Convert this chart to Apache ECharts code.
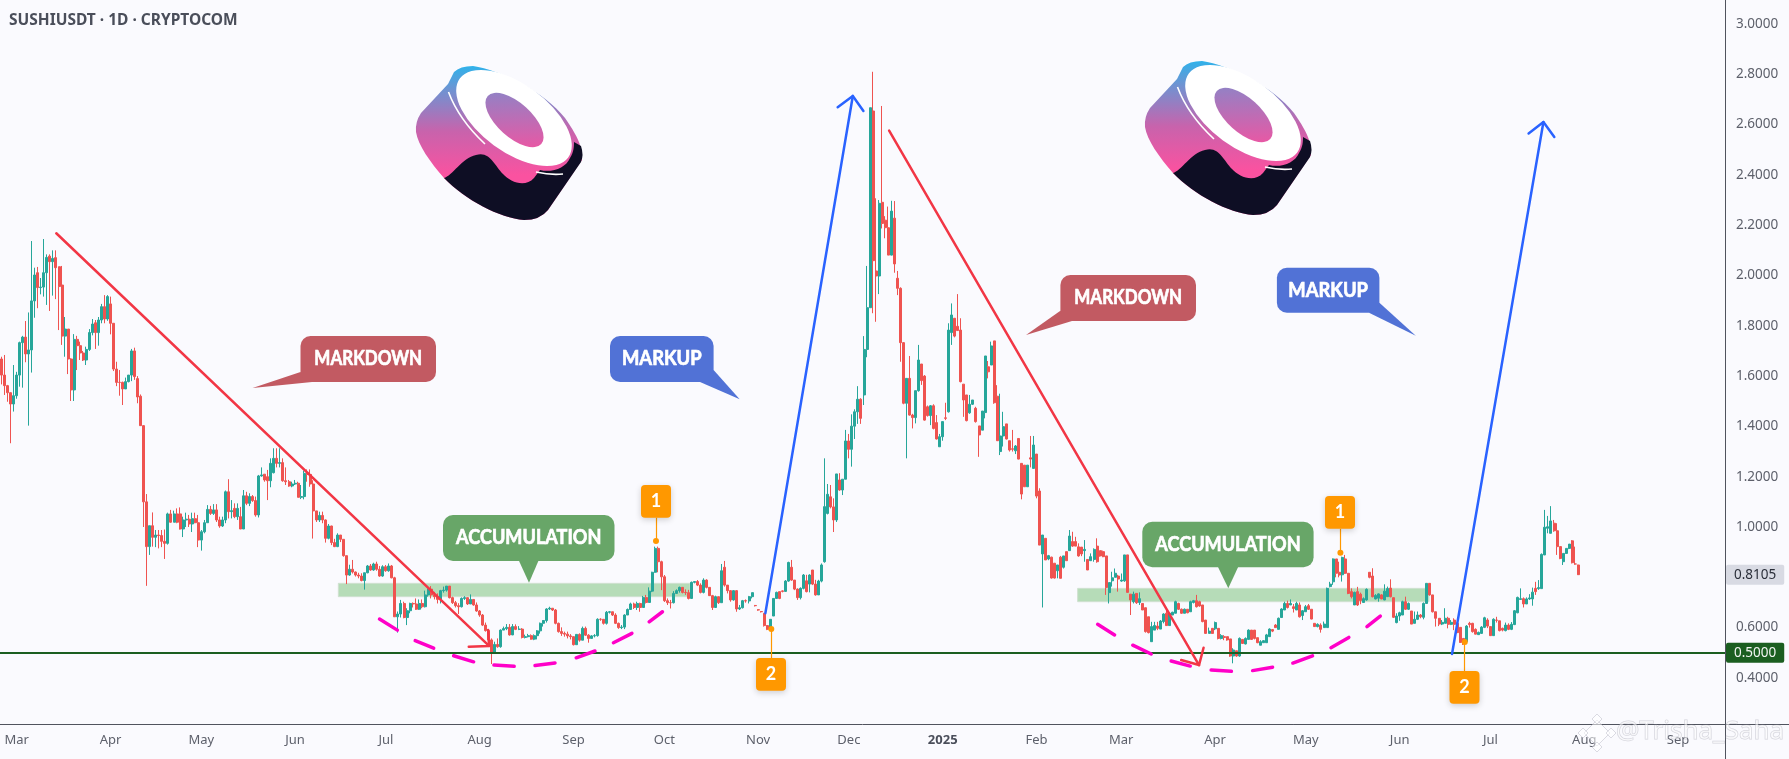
<!DOCTYPE html>
<html><head><meta charset="utf-8">
<style>html,body{margin:0;padding:0;background:#fafafe;overflow:hidden}#c{width:1789px;height:759px}</style>
<script src="https://cdn.jsdelivr.net/npm/echarts@6/dist/echarts.min.js"></script>
</head><body><div id="c"></div>
<script>
// Each candle: [close, high, low, open?]  (open defaults to the previous close)
const candlesSpring2024 = [
[1.604,1.677,1.567,1.668],[1.562,1.684,1.525],[1.534,1.565,1.498],[1.489,1.535,1.333],[1.522,1.644,1.459],[1.604,1.617,1.51],[1.733,1.737,1.558],[1.755,1.76,1.554],[1.688,1.819,1.655],[1.704,1.853,1.403],
[1.899,2.137,1.614],[2.002,2.031,1.832],[1.952,2.034,1.87,2.011],[1.954,1.99,1.925],[2.011,2.145,1.916],[2.072,2.084,1.883],[2.055,2.084,1.859,2.077],[2.068,2.1,1.92],[2.031,2.1,1.906,2.071],[1.956,2.03,1.783,2.035],
[1.759,2.038,1.724,1.962],[1.787,1.835,1.677],[1.668,1.787,1.608],[1.545,1.671,1.501],[1.746,1.767,1.501],[1.721,1.76,1.624],[1.692,1.737,1.664],[1.664,1.7,1.66],[1.706,1.717,1.644],[1.773,1.787,1.7],
[1.807,1.827,1.762],[1.773,1.823,1.708,1.812],[1.823,1.835,1.721],[1.876,1.887,1.81],[1.827,1.922,1.81,1.876],[1.916,1.922,1.82],[1.81,1.916,1.766,1.887],[1.628,1.81,1.62],[1.575,1.657,1.56],[1.575,1.624,1.522],
[1.549,1.578,1.485],[1.578,1.594,1.549],[1.604,1.604,1.575],[1.7,1.708,1.58],[1.598,1.713,1.585,1.7],[1.517,1.6,1.492,1.59],[1.403,1.527,1.403,1.52],[1.1,1.405,1.0],[0.922,1.131,0.766,1.1],[1.005,1.005,0.889],
[0.959,1.058,0.922,1.005],[0.968,0.988,0.92],[0.966,0.988,0.915],[0.943,0.988,0.92],[0.935,0.99,0.873],[1.052,1.057,0.93],[1.019,1.068,1.017],[1.052,1.065,1.019],[1.019,1.074,1.015],[0.992,1.078,0.99,1.052],
[1.028,1.041,0.96],[1.031,1.057,1.0],[1.012,1.048,1.0],[1.033,1.057,0.98],[1.017,1.057,1.015],[0.948,1.048,0.92],[0.981,0.988,0.906],[1.017,1.028,0.975],[1.07,1.087,1.017],[1.054,1.084,1.048],
[1.068,1.091,1.048],[1.028,1.091,1.02],[1.004,1.041,0.997],[1.028,1.041,1.0],[1.14,1.145,1.015],[1.061,1.19,1.034,1.14],[1.065,1.107,1.034],[1.041,1.094,1.035,1.074],[1.074,1.094,1.028],[0.992,1.08,0.992,1.041],
[1.124,1.147,0.992],[1.094,1.14,1.087],[1.121,1.134,1.083],[1.105,1.127,1.1],[1.048,1.121,1.041],[1.203,1.207,1.038],[1.207,1.237,1.2],[1.187,1.21,1.18,1.21],[1.184,1.227,1.107,1.2],[1.253,1.273,1.158]
];
const candlesSummer2024 = [
[1.273,1.313,1.213,1.216],[1.253,1.313,1.237,1.273],[1.256,1.313,1.237],[1.184,1.273,1.18],[1.18,1.237,1.167],[1.163,1.187,1.16],[1.171,1.18,1.158],[1.174,1.187,1.167],[1.118,1.18,1.118],[1.121,1.167,1.111],
[1.213,1.224,1.11],[1.209,1.229,1.18],[1.171,1.229,1.16],[1.064,1.186,0.954],[1.028,1.064,1.02],[1.046,1.061,1.02],[1.028,1.061,1.015],[0.955,1.03,0.938],[1.004,1.012,0.951],[0.938,1.005,0.928],
[0.922,0.953,0.92],[0.968,0.975,0.92],[0.951,0.955,0.94],[0.886,0.951,0.882],[0.809,0.886,0.773],[0.832,0.85,0.806],[0.821,0.869,0.815],[0.809,0.823,0.803],[0.805,0.818,0.796],[0.787,0.816,0.784],
[0.818,0.818,0.751],[0.845,0.849,0.816],[0.829,0.853,0.826],[0.853,0.858,0.826],[0.832,0.862,0.826],[0.805,0.845,0.802],[0.842,0.848,0.802],[0.826,0.849,0.822],[0.845,0.855,0.822],[0.798,0.849,0.796],
[0.643,0.802,0.643],[0.654,0.664,0.58],[0.696,0.71,0.64],[0.64,0.703,0.637],[0.667,0.677,0.61],[0.696,0.699,0.657],[0.694,0.7,0.68],[0.673,0.716,0.67],[0.696,0.712,0.67],[0.683,0.712,0.677],
[0.73,0.747,0.68],[0.753,0.756,0.723],[0.73,0.765,0.716],[0.723,0.742,0.712],[0.712,0.736,0.696],[0.747,0.75,0.696],[0.749,0.763,0.739],[0.765,0.765,0.743],[0.719,0.765,0.716],[0.699,0.723,0.694],
[0.687,0.706,0.68],[0.683,0.697,0.654],[0.716,0.72,0.68],[0.719,0.725,0.71],[0.694,0.72,0.69],[0.712,0.732,0.694],[0.69,0.703,0.687],[0.666,0.7,0.663],[0.65,0.67,0.643],[0.61,0.654,0.606],
[0.588,0.62,0.584],[0.551,0.59,0.53],[0.502,0.557,0.455],[0.533,0.544,0.498],[0.524,0.557,0.52],[0.59,0.593,0.52],[0.596,0.604,0.59],[0.601,0.614,0.59],[0.571,0.614,0.568],[0.604,0.614,0.57],
[0.593,0.613,0.59],[0.594,0.606,0.59],[0.561,0.598,0.557],[0.564,0.572,0.557],[0.568,0.575,0.561],[0.554,0.573,0.552],[0.568,0.573,0.55],[0.587,0.59,0.553]
];
const candlesAutumn2024 = [
[0.617,0.62,0.576],[0.628,0.63,0.604],[0.674,0.677,0.62],[0.677,0.683,0.67],[0.67,0.676,0.666],[0.617,0.674,0.613],[0.584,0.62,0.58],[0.577,0.601,0.567],[0.574,0.584,0.564],[0.567,0.584,0.557],
[0.564,0.574,0.553],[0.532,0.561,0.529],[0.573,0.574,0.532],[0.55,0.577,0.544],[0.597,0.604,0.55],[0.57,0.604,0.567],[0.557,0.574,0.54],[0.567,0.57,0.557],[0.568,0.574,0.561],[0.633,0.637,0.564],
[0.633,0.637,0.627],[0.617,0.633,0.612],[0.661,0.666,0.612],[0.663,0.666,0.656],[0.65,0.663,0.646],[0.617,0.657,0.614],[0.6,0.62,0.595],[0.602,0.61,0.594],[0.65,0.653,0.594],[0.672,0.676,0.65],
[0.694,0.699,0.67],[0.68,0.699,0.674],[0.696,0.703,0.67],[0.68,0.699,0.663],[0.72,0.726,0.69],[0.7,0.73,0.696],[0.745,0.76,0.699],[0.82,0.822,0.741],[0.915,0.922,0.818],[0.862,0.922,0.82],
[0.802,0.866,0.749],[0.707,0.809,0.702],[0.699,0.716,0.69],[0.699,0.71,0.676],[0.736,0.745,0.696],[0.747,0.752,0.734],[0.76,0.763,0.739],[0.74,0.76,0.736],[0.739,0.752,0.73],[0.716,0.75,0.712],
[0.78,0.783,0.714],[0.783,0.783,0.776],[0.769,0.789,0.765],[0.74,0.776,0.736],[0.789,0.796,0.736],[0.76,0.792,0.756],[0.727,0.76,0.726],[0.68,0.73,0.67],[0.723,0.727,0.68],[0.699,0.723,0.694],
[0.826,0.853,0.699],[0.769,0.865,0.763,0.84],[0.747,0.769,0.736],[0.71,0.749,0.703],[0.747,0.749,0.707],[0.674,0.749,0.663],[0.679,0.69,0.67],[0.707,0.71,0.676],[0.706,0.712,0.699],[0.723,0.726,0.696],
[0.739,0.739,0.716],[0.687,0.69,0.684,0.688],[0.67,0.673,0.667,0.671],[0.663,0.666,0.66,0.664],[0.608,0.657,0.604,0.657],[0.593,0.61,0.59],[0.633,0.633,0.59],[0.716,0.716,0.646,0.646],[0.74,0.743,0.716],[0.716,0.743,0.713,0.743],
[0.744,0.748,0.74,0.746],[0.785,0.789,0.743],[0.859,0.862,0.782],[0.789,0.869,0.786,0.84],[0.753,0.789,0.749],[0.719,0.756,0.71],[0.756,0.76,0.712],[0.809,0.813,0.752],[0.743,0.81,0.74,0.786],[0.809,0.812,0.74,0.773],
[0.773,0.829,0.769,0.829],[0.73,0.79,0.727],[0.785,0.79,0.73],[0.849,0.855,0.78]
];
const candlesBreakout = [
[1.081,1.273,0.858,0.862],[1.13,1.171,1.05,1.054],[1.08,1.167,1.074,1.12],[1.028,1.114,0.98],[1.211,1.211,1.02],[1.147,1.214,1.144,1.187],[1.19,1.19,1.127],[1.342,1.386,1.19],[1.309,1.37,1.273],[1.401,1.448,1.24],
[1.458,1.468,1.35],[1.508,1.56,1.41],[1.432,1.512,1.41],[1.706,1.759,1.485,1.525],[1.872,2.038,1.675],[2.667,2.667,1.913],[2.059,2.81,1.85,2.654],[1.998,2.307,1.816,2.018],[2.287,2.3,1.926],[2.207,2.674,2.187,2.291],
[2.19,2.236,2.148,2.22],[2.081,2.274,2.081,2.19],[2.256,2.297,2.08],[2.046,2.296,2.011,2.228],[1.949,2.018,1.922,1.989],[1.733,1.953,1.657],[1.492,1.735,1.488],[1.591,1.591,1.273],[1.445,1.68,1.443],[1.435,1.45,1.392],
[1.542,1.542,1.412],[1.664,1.724,1.538],[1.582,1.648,1.565,1.648],[1.425,1.604,1.423,1.6],[1.443,1.483,1.439,1.478],[1.482,1.485,1.405],[1.392,1.488,1.388],[1.35,1.445,1.348,1.415],[1.359,1.37,1.319,1.319],[1.419,1.419,1.343],
[1.432,1.494,1.425,1.434],[1.783,1.81,1.455,1.458],[1.843,1.889,1.724,1.773],[1.759,1.83,1.754,1.83],[1.781,1.926,1.78,1.798],[1.578,1.83,1.575,1.783],[1.505,1.568,1.438,1.568],[1.423,1.525,1.42,1.525],[1.488,1.525,1.45,1.454],[1.505,1.505,1.485],
[1.419,1.478,1.415,1.472],[1.366,1.402,1.279,1.402],[1.461,1.461,1.385,1.385],[1.68,1.68,1.432,1.455],[1.617,1.66,1.591,1.637],[1.72,1.737,1.645,1.644],[1.494,1.74,1.49,1.74],[1.343,1.564,1.343,1.52],[1.362,1.53,1.286,1.3],[1.399,1.458,1.32],
[1.35,1.41,1.348,1.41],[1.306,1.343,1.3,1.343],[1.309,1.386,1.3,1.311],[1.322,1.326,1.29,1.303],[1.27,1.352,1.269,1.352]
];
const candlesEarly2025 = [
[1.131,1.253,1.11,1.253],[1.16,1.246,1.16,1.246],[1.246,1.246,1.16,1.16],[1.27,1.362,1.237,1.275],[1.326,1.362,1.233,1.233],[1.123,1.29,1.114,1.29],[0.928,1.154,0.928,1.143],[0.968,0.968,0.68,0.893],[0.869,0.955,0.869,0.955],[0.886,0.889,0.868,0.873],
[0.797,0.882,0.795,0.88],[0.797,0.856,0.795,0.856],[0.849,0.849,0.796,0.826],[0.796,0.885,0.796,0.88],[0.885,0.885,0.835,0.84],[0.866,0.902,0.866,0.902],[0.964,0.988,0.906,0.906],[0.924,0.981,0.921,0.942],[0.924,0.961,0.924,0.942],[0.885,0.935,0.882,0.921],
[0.893,0.92,0.884,0.92],[0.911,0.948,0.862,0.906],[0.829,0.871,0.829,0.871],[0.882,0.895,0.866,0.866],[0.911,0.915,0.862,0.871],[0.862,0.955,0.858,0.924],[0.885,0.906,0.882,0.906],[0.882,0.906,0.88,0.902],[0.759,0.885,0.73,0.885],[0.779,0.779,0.696,0.739],
[0.798,0.822,0.763,0.786],[0.816,0.835,0.8,0.8],[0.793,0.81,0.743,0.805],[0.789,0.815,0.782,0.785],[0.889,0.889,0.782,0.786],[0.74,0.889,0.74,0.889],[0.71,0.733,0.65,0.733],[0.733,0.743,0.696,0.703],[0.699,0.736,0.694,0.736],[0.715,0.74,0.69,0.7],
[0.67,0.695,0.67,0.696],[0.584,0.679,0.58,0.679],[0.58,0.643,0.577,0.643],[0.604,0.623,0.544,0.544],[0.608,0.623,0.59,0.59],[0.597,0.623,0.59,0.606],[0.626,0.63,0.594,0.594],[0.654,0.657,0.617,0.624],[0.608,0.677,0.608,0.657],[0.657,0.657,0.608,0.608],
[0.661,0.663,0.65,0.65],[0.703,0.707,0.657,0.657],[0.673,0.699,0.67,0.696],[0.657,0.676,0.655,0.673],[0.673,0.676,0.657,0.657],[0.659,0.673,0.657,0.673],[0.703,0.707,0.663,0.663],[0.707,0.71,0.696,0.7],[0.683,0.73,0.68,0.707],[0.686,0.707,0.683,0.703],
[0.624,0.69,0.621,0.69],[0.577,0.63,0.575,0.63],[0.586,0.6,0.577,0.577],[0.577,0.597,0.575,0.597],[0.62,0.624,0.59,0.595],[0.557,0.597,0.553,0.597],[0.568,0.574,0.553,0.557],[0.561,0.57,0.55,0.564],[0.551,0.564,0.548,0.564],[0.487,0.555,0.484,0.555],
[0.511,0.518,0.458,0.487],[0.487,0.508,0.484,0.508],[0.557,0.561,0.484,0.487],[0.537,0.553,0.535,0.553],[0.557,0.561,0.533,0.535],[0.59,0.593,0.553,0.553],[0.553,0.59,0.551,0.59],[0.557,0.59,0.553,0.59],[0.54,0.56,0.538,0.56],[0.544,0.55,0.53,0.53],
[0.548,0.55,0.54,0.54],[0.571,0.575,0.54,0.54],[0.594,0.597,0.564,0.564],[0.586,0.594,0.582,0.592],[0.6,0.614,0.6,0.61],[0.637,0.64,0.593,0.593],[0.674,0.677,0.64,0.64],[0.696,0.703,0.67,0.67],[0.68,0.707,0.676,0.696],[0.696,0.712,0.69,0.69],
[0.676,0.694,0.66,0.683],[0.696,0.703,0.67,0.67]
];
const candlesMidLate2025 = [
[0.643,0.7,0.64,0.69],[0.667,0.67,0.63,0.648],[0.683,0.69,0.663,0.663],[0.673,0.694,0.67,0.687],[0.634,0.673,0.633,0.673],[0.604,0.617,0.604,0.617],[0.613,0.617,0.601,0.604],[0.593,0.617,0.58,0.61],[0.614,0.624,0.6,0.6],[0.756,0.759,0.6,0.6],
[0.773,0.782,0.76,0.763],[0.873,0.875,0.77,0.782],[0.816,0.873,0.8,0.873],[0.809,0.862,0.8,0.82],[0.879,0.882,0.783,0.81],[0.816,0.889,0.813,0.873],[0.736,0.816,0.733,0.816],[0.723,0.756,0.716,0.743],[0.74,0.743,0.69,0.69],[0.69,0.762,0.686,0.743],
[0.708,0.739,0.693,0.733],[0.715,0.72,0.7,0.7],[0.752,0.756,0.707,0.71],[0.8,0.82,0.796,0.82],[0.723,0.836,0.72,0.805],[0.728,0.733,0.712,0.714],[0.734,0.736,0.703,0.717],[0.714,0.733,0.713,0.73],[0.745,0.772,0.709,0.71],[0.755,0.763,0.723,0.723],
[0.723,0.792,0.72,0.757],[0.641,0.719,0.638,0.719],[0.646,0.657,0.617,0.62],[0.659,0.663,0.627,0.646],[0.703,0.707,0.65,0.65],[0.673,0.723,0.67,0.703],[0.696,0.7,0.67,0.673],[0.614,0.666,0.614,0.666],[0.633,0.664,0.617,0.617],[0.65,0.664,0.63,0.633],
[0.643,0.654,0.637,0.65],[0.696,0.7,0.633,0.641],[0.776,0.776,0.696,0.696],[0.73,0.776,0.727,0.776],[0.663,0.73,0.66,0.73],[0.637,0.663,0.604,0.663],[0.614,0.637,0.606,0.637],[0.621,0.63,0.61,0.614],[0.637,0.677,0.617,0.617],[0.613,0.643,0.597,0.637],
[0.621,0.63,0.61,0.613],[0.613,0.637,0.59,0.63],[0.58,0.62,0.577,0.617],[0.541,0.6,0.54,0.601],[0.535,0.557,0.531,0.557],[0.606,0.61,0.54,0.544],[0.612,0.623,0.6,0.617],[0.584,0.619,0.58,0.617],[0.574,0.597,0.573,0.593],[0.581,0.584,0.571,0.572],
[0.602,0.606,0.575,0.577],[0.639,0.643,0.598,0.601],[0.606,0.637,0.598,0.63],[0.568,0.604,0.567,0.604],[0.633,0.637,0.568,0.568],[0.629,0.643,0.62,0.63],[0.588,0.627,0.585,0.627],[0.59,0.6,0.585,0.597],[0.61,0.62,0.585,0.588],[0.593,0.617,0.59,0.61],
[0.613,0.622,0.59,0.593],[0.667,0.67,0.61,0.612],[0.72,0.723,0.657,0.659],[0.715,0.756,0.71,0.712],[0.694,0.72,0.68,0.715],[0.714,0.72,0.694,0.694],[0.718,0.733,0.71,0.714],[0.741,0.759,0.687,0.714],[0.743,0.782,0.73,0.756],[0.759,0.789,0.75,0.755],
[0.891,0.895,0.755,0.755],[0.999,1.068,0.888,0.889],[1.001,1.044,0.975,0.995],[1.024,1.083,0.975,0.975],[0.985,1.028,0.981,1.015],[0.922,1.015,0.889,0.985],[0.875,0.922,0.872,0.922],[0.895,0.895,0.849,0.862],[0.915,0.915,0.893,0.895],[0.932,0.932,0.912,0.915],
[0.858,0.948,0.855,0.945],[0.853,0.922,0.85,0.853],[0.8105,0.85,0.809,0.849]
];
const yTicks = [3.0,2.8,2.6,2.4,2.2,2.0,1.8,1.6,1.4,1.2,1.0,0.6,0.4];
const monthTicks = {'2024-03-01':'Mar','2024-04-01':'Apr','2024-05-01':'May','2024-06-01':'Jun','2024-07-01':'Jul','2024-08-01':'Aug','2024-09-01':'Sep','2024-10-01':'Oct','2024-11-01':'Nov','2024-12-01':'Dec','2025-01-01':'2025','2025-02-01':'Feb','2025-03-01':'Mar','2025-04-01':'Apr','2025-05-01':'May','2025-06-01':'Jun','2025-07-01':'Jul','2025-08-01':'Aug','2025-09-01':'Sep'};
const supportLevel = 0.5, lastPrice = 0.8105;
// drawings, in [day index, price]
const redArrow1 = [[18.1,2.168],[161.1,0.527]];
const redHead1 = [[154.4,0.524],[161.1,0.527],[160.8,0.59]];
const redArrow2 = [[293.3,2.576],[395.7,0.451]];
const redHead2 = [[389.8,0.471],[395.7,0.451],[397.2,0.52]];
const blueArrow1 = [[252.4,0.657],[281.3,2.714]];
const blueHead1 = [[276.3,2.669],[281.3,2.714],[284.8,2.654]];
const blueArrow2 = [[479.3,0.495],[509.5,2.61]];
const blueHead2 = [[504.6,2.565],[509.5,2.61],[513.1,2.551]];
const pinkDashes1 = [[[124.9,.634],[130.8,.59]],[[136.7,.548],[142.8,.518]],[[149.4,.488],[156,.464]],[[162.7,.451],[169.4,.446]],[[176.3,.449],[182.9,.459]],[[189.9,.48],[196.1,.507]],[[202.2,.54],[208.3,.577]],[[214,.623],[218.4,.663]]];
const pinkDashes2 = [[[362.2,.613],[367.8,.571]],[[373.8,.53],[379.9,.495]],[[386.5,.467],[392.8,.447]],[[399.7,.431],[406.4,.426]],[[413.4,.429],[420,.442]],[[426.7,.459],[433.2,.488]],[[439.3,.52],[445.2,.561]],[[451.2,.604],[455.6,.646]]];
const accumulationZones = [[[111.3,0.776],[227.5,0.723]],[[355.6,0.756],[471.7,0.703]]];

const FONT = '"Noto Sans", sans-serif';
const GREEN = '#26a69a', RED = '#ef5350';
const allCandles = [].concat(candlesSpring2024,candlesSummer2024,candlesAutumn2024,candlesBreakout,candlesEarly2025,candlesMidLate2025);
const TOTAL_DAYS = 570;
const categories = [];
for (let i = 0; i < TOTAL_DAYS; i++) categories.push(new Date(Date.UTC(2024,1,25+i)).toISOString().slice(0,10));
let prev = null;
const ohlc = allCandles.map(function (c) {
  const close = c[0], open = c[3] !== undefined ? c[3] : prev;
  prev = close;
  return [open, close, Math.min(c[2],open,close), Math.max(c[1],open,close)];
});

function lineSeries(data, color, width, extra) {
  return Object.assign({type:'line',xAxisIndex:1,yAxisIndex:0,data:data,symbol:'none',silent:true,animation:false,z:6,
    lineStyle:{color:color,width:width,cap:'round',join:'round'}}, extra||{});
}
const series = [{
  type:'candlestick',xAxisIndex:0,yAxisIndex:0,data:ohlc,barWidth:2.5,animation:false,silent:true,z:3,
  itemStyle:{color:GREEN,color0:RED,borderColor:GREEN,borderColor0:RED,borderColorDoji:RED,borderWidth:1}
}];
accumulationZones.forEach(function (z) {
  series.push({type:'line',xAxisIndex:1,yAxisIndex:0,data:z,symbol:'none',silent:true,animation:false,z:1,lineStyle:{opacity:0},
    markArea:{silent:true,animation:false,itemStyle:{color:'#b6dcb8',borderColor:'#cfe0d0',borderWidth:1},
      data:[[{xAxis:z[0][0],yAxis:z[0][1]},{xAxis:z[1][0],yAxis:z[1][1]}]]}});
});
[redArrow1,redHead1,redArrow2,redHead2].forEach(function (d){series.push(lineSeries(d,'#f23645',2.5));});
[blueArrow1,blueHead1,blueArrow2,blueHead2].forEach(function (d){series.push(lineSeries(d,'#2962ff',2.5));});
pinkDashes1.concat(pinkDashes2).forEach(function (d){series.push(lineSeries(d,'#ff00c8',3.5));});
series.push({type:'line',xAxisIndex:1,yAxisIndex:0,data:[[0,supportLevel],[569,supportLevel]],symbol:'none',silent:true,animation:false,z:5,
  lineStyle:{opacity:0},
  markLine:{silent:true,animation:false,symbol:'none',precision:4,
    data:[
      {yAxis:supportLevel,lineStyle:{color:'#1b5e20',width:2,type:'solid'},label:{show:true,position:'end',distance:1,formatter:'0.5000',color:'#f2f5f2',backgroundColor:'#1b5e20',padding:[3,8,3,8],borderRadius:2,fontFamily:FONT,fontSize:13.5}},
      {yAxis:lastPrice,lineStyle:{color:'rgba(0,0,0,0)',width:0,type:'solid'},label:{show:true,position:'end',distance:1,formatter:'0.8105',color:'#2a2e39',backgroundColor:'#d8dae3',padding:[3,8,3,8],borderRadius:2,fontFamily:FONT,fontSize:13.5}}
    ]}});

// decorative annotation graphics
const graphics = [];
function callout(x,y,w,h,fill,tail,text,sx) {
  graphics.push({type:'polygon',z:50,silent:true,shape:{points:tail},style:{fill:fill}});
  graphics.push({type:'rect',z:50,silent:true,shape:{x:x,y:y,width:w,height:h,r:10},style:{fill:fill}});
  graphics.push({type:'text',z:51,silent:true,x:x+w/2,y:y+h/2,scaleX:sx,style:{text:text,x:0,y:0,fill:'#fff',stroke:'#fff',lineWidth:0.7,font:'bold 20px Lato, sans-serif',textAlign:'center',textVerticalAlign:'middle'}});
}
callout(300.5,336,135.5,46,'#c25a62',[[300.5,372],[252.6,388],[312,382]],'MARKDOWN',0.85);
callout(610,336,103.6,46,'#5172d6',[[713.6,370],[739.7,399.3],[700,382]],'MARKUP',0.92);
callout(1060.4,275,135.6,46,'#c25a62',[[1060.4,310.7],[1026,335],[1072,321]],'MARKDOWN',0.85);
callout(1276.9,267.7,102.5,45,'#5172d6',[[1379.4,302.7],[1415.8,335.7],[1369,312.7]],'MARKUP',0.92);
callout(443,515,171.5,46,'#68a668',[[518.6,560],[529,582.7],[538.8,560]],'ACCUMULATION',0.905);
callout(1142.3,521.7,171.3,45.5,'#68a668',[[1217.5,566],[1228.3,588.3],[1238.6,566]],'ACCUMULATION',0.905);

function marker(x,y,stemX,stemY,text) {
  const top = stemY < y, sx = Math.floor(stemX)+0.5;
  graphics.push({type:'line',z:49,silent:true,shape:{x1:sx,y1:top?y:y+32.7,x2:sx,y2:stemY},style:{stroke:'#ff9800',lineWidth:1.2}});
  graphics.push({type:'circle',z:49,silent:true,shape:{cx:stemX,cy:stemY,r:3},style:{fill:'#ff9800'}});
  graphics.push({type:'rect',z:50,silent:true,shape:{x:x,y:y,width:30,height:32.7,r:4},style:{fill:'#ff9800',shadowBlur:6,shadowColor:'rgba(0,0,0,0.18)',shadowOffsetY:2}});
  graphics.push({type:'text',z:51,silent:true,style:{text:text,x:x+15,y:y+16.5,fill:'#fff',font:'bold 18px Lato, sans-serif',textAlign:'center',textVerticalAlign:'middle'}});
}
marker(641,485,656,541,'1');
marker(756,658,771.3,629,'2');
marker(1325,496,1340.4,552.7,'1');
marker(1449.5,671,1464.8,642,'2');

// Sushi logo
const logoSvg = '<svg xmlns="http://www.w3.org/2000/svg" width="180" height="165" viewBox="410 60 180 165">'
 +'<defs><linearGradient id="a" x1="0" y1="66" x2="0" y2="175" gradientUnits="userSpaceOnUse"><stop offset="0" stop-color="#2fb2ea"/><stop offset="0.22" stop-color="#6f93d2"/><stop offset="0.6" stop-color="#c863ac"/><stop offset="1" stop-color="#fa52a0"/></linearGradient>'
 +'<linearGradient id="b" x1="490" y1="97" x2="535" y2="145" gradientUnits="userSpaceOnUse"><stop offset="0" stop-color="#8b85c8"/><stop offset="1" stop-color="#ee55a2"/></linearGradient></defs>'
 +'<path fill="url(#a)" d="M448 84 L454 72 Q460 66 473 66 C500 70 545 92 565 118 C572 128 578 138 580 145 L582 160 L548 210 Q540 220 524 220 C500 218 465 200 444 178 C430 162 418 145 416 132 Q415 122 421 113 Z"/>'
 +'<path fill="#fff" transform="rotate(36 514 118)" d="M447 118 a67 34 0 1 0 134 0 a67 34 0 1 0 -134 0 Z"/>'
 +'<path fill="#0e0e24" d="M444 178 C452 176 462 158 476 155 C490 151 494 165 503 174 C510 182 525 188 534 178 L540 170 C552 173 566 168 570 158 C574 152 574 146 574 142 L581 146 Q584 155 581 162 L548 210 Q540 220 524 220 C500 218 465 200 444 178 Z"/>'
 +'<ellipse cx="514.5" cy="120" rx="36" ry="17" transform="rotate(42 514.5 120)" fill="url(#b)"/>'
 +'<path fill="none" stroke="#fff" stroke-width="1.6" d="M448.5 92 C456 112 470 130 485 144"/>'
 +'<path fill="none" stroke="#fff" stroke-width="1.6" d="M536 172 C545 174 554 175 563 174"/>'
 +'</svg>';
const logoUri = 'data:image/svg+xml;charset=utf-8,' + encodeURIComponent(logoSvg);
graphics.push({type:'image',z:40,silent:true,style:{image:logoUri,x:410,y:60,width:180,height:165}});
graphics.push({type:'image',z:40,silent:true,style:{image:logoUri,x:1139,y:55,width:180,height:165}});

// axis frame extensions
graphics.push({type:'line',z:2,silent:true,shape:{x1:1725.5,y1:724,x2:1725.5,y2:759},style:{stroke:'#50535e',lineWidth:1}});
graphics.push({type:'line',z:2,silent:true,shape:{x1:1725,y1:724.5,x2:1789,y2:724.5},style:{stroke:'#50535e',lineWidth:1}});

// watermark
[[1597,733,13],[1583,733,5],[1611,733,5],[1597,719,5],[1597,747,5]].forEach(function (d){
  graphics.push({type:'polygon',z:60,silent:true,shape:{points:[[d[0],d[1]-d[2]],[d[0]+d[2],d[1]],[d[0],d[1]+d[2]],[d[0]-d[2],d[1]]]},style:{fill:'rgba(255,255,255,0.55)',stroke:'rgba(170,170,185,0.4)',lineWidth:1}});
});
graphics.push({type:'text',z:60,silent:true,style:{text:'@Trisha_Saha',x:1616,y:732,fill:'rgba(255,255,255,0.55)',stroke:'rgba(150,150,165,0.4)',lineWidth:1,font:'26px "Noto Sans", sans-serif',textAlign:'left',textVerticalAlign:'middle'}});

const chart = echarts.init(document.getElementById('c'),null,{renderer:'canvas',width:1789,height:759});
chart.setOption({
  backgroundColor:'#fafafe',
  animation:false,
  title:{text:'SUSHIUSDT · 1D · CRYPTOCOM',left:9,top:13,padding:0,textStyle:{fontFamily:FONT,fontSize:15.5,fontWeight:'bold',color:'#4a4e5a'}},
  grid:{left:0,right:64,top:0,bottom:35,containLabel:false},
  xAxis:[
    {type:'category',data:categories,boundaryGap:true,axisTick:{show:false},splitLine:{show:false},
     axisLine:{show:true,lineStyle:{color:'#50535e',width:1}},
     axisLabel:{margin:10,fontFamily:FONT,fontSize:13,color:'#5d606b',
       interval:function(i,v){return monthTicks[v]!==undefined;},
       formatter:function(v){const t=monthTicks[v];return t==='2025'?'{y|2025}':t;},
       rich:{y:{fontFamily:FONT,fontSize:13,fontWeight:'bold',color:'#4a4e5a'}}}},
    {type:'value',min:-0.5,max:569.5,show:false,splitLine:{show:false}}
  ],
  yAxis:{type:'value',position:'right',min:0.2167,max:3.0954,splitLine:{show:false},
    axisLine:{show:true,onZero:false,lineStyle:{color:'#50535e',width:1}},axisTick:{show:false},
    axisLabel:{margin:11,fontFamily:FONT,fontSize:13.5,color:'#5d606b',customValues:yTicks,formatter:function(v){return v.toFixed(4);}}},
  series:series,
  graphic:{elements:graphics}
});
</script></body></html>
